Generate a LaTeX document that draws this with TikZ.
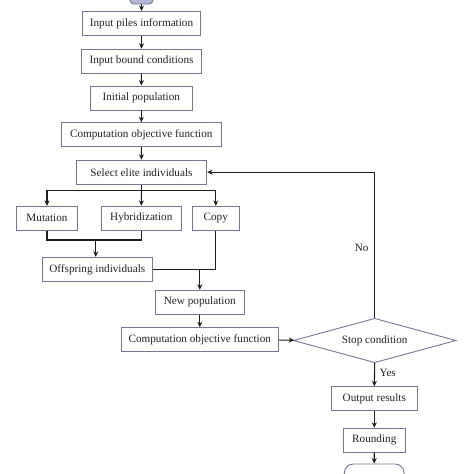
\documentclass[tikz,border=0pt]{standalone}
\usepackage{fontspec}
\setmainfont{Liberation Serif}
\usetikzlibrary{arrows.meta,shapes.geometric}
\definecolor{bordercol}{RGB}{118,118,150}
\definecolor{startfill}{RGB}{180,180,215}
\definecolor{linecol}{RGB}{30,30,30}
\definecolor{textcol}{RGB}{35,35,35}
\begin{document}
\begin{tikzpicture}[x=1pt,y=-1pt,
  box/.style={draw=bordercol, line width=0.9pt, minimum height=24pt, inner sep=0pt, font=\fontsize{11.2}{13}\selectfont, text=textcol},
  dia/.style={draw=bordercol, line width=0.9pt, diamond, aspect=3.66, inner sep=0pt, font=\fontsize{11.2}{13}\selectfont, text=textcol},
  term/.style={draw=bordercol, line width=0.9pt, rounded corners=9pt, minimum height=24pt, inner sep=0pt},
  lbl/.style={font=\fontsize{11.2}{13}\selectfont, text=textcol, inner sep=0pt},
  arr/.style={draw=linecol, line width=1.1pt, -{Stealth[length=5.5pt,width=5pt]}},
  ln/.style={draw=linecol, line width=1.1pt}]
\useasboundingbox (0,0) rectangle (474,474);
\begin{scope}
\clip (0,0) rectangle (474,474);
\node[term, fill=startfill, minimum width=23pt, minimum height=14pt, rounded corners=4pt] (start) at (141.5,-3) {};
\node[term, minimum width=59.7pt] (end) at (374.2,476) {};
\end{scope}
\node[box, minimum width=117.3pt] (n1) at (141.5,23.5) {Input piles information};
\node[box, minimum width=119.6pt] (n2) at (141.5,61.2) {Input bound conditions};
\node[box, minimum width=102pt] (n3) at (141.3,98) {Initial population};
\node[box, minimum width=159.3pt] (n4) at (141.3,134.7) {Computation objective function};
\node[box, minimum width=130.4pt] (n5) at (141.5,172.2) {Select elite individuals};
\node[box, minimum width=60.6pt] (mut) at (47,218.3) {Mutation};
\node[box, minimum width=79.3pt] (hyb) at (141.3,218.3) {Hybridization};
\node[box, minimum width=46.3pt] (copy) at (215.8,218.3) {Copy};
\node[box, minimum width=110.7pt] (off) at (97.3,269.3) {Offspring individuals};
\node[box, minimum width=89pt] (newp) at (199.8,302.2) {New population};
\node[box, minimum width=157.7pt] (comp) at (199.8,339.7) {Computation objective function};
\node[dia, minimum width=162.7pt, minimum height=44.4pt] (stop) at (374.7,340.5) {Stop condition};
\node[box, minimum width=86pt] (out) at (374.3,398.7) {Output results};
\node[box, minimum width=61.3pt] (rnd) at (374.3,440.2) {Rounding};
\coordinate (br) at (141.5,190.7);
\coordinate (jm) at (95.7,240);
\draw[arr] (start) -- (n1);
\draw[arr] (n1) -- (n2);
\draw[arr] (n2) -- (n3);
\draw[arr] (n3) -- (n4);
\draw[arr] (n4) -- (n5);
\draw[ln] (n5.south) -- (br);
\draw[arr] (br) -| (mut.north);
\draw[arr] (br) -| (copy.north);
\draw[arr] (br) -- (hyb.north);
\draw[ln] (mut.south) |- (jm) -| (hyb.south);
\draw[arr] (jm) -- (jm |- off.north);
\draw[ln] (off.east) -| (copy.south);
\draw[arr] (newp.north |- off.east) -- (newp.north);
\draw[arr] (newp) -- (comp);
\draw[arr] (comp) -- (stop);
\draw[arr] (stop.north) |- (n5.east);
\node[lbl] (no) at (361.7,247.7) {No};
\draw[arr] (stop.south) -- (out.north);
\node[lbl] (yes) at (387.7,372.7) {Yes};
\draw[arr] (out) -- (rnd);
\draw[arr] (rnd) -- (end);
\end{tikzpicture}
\end{document}
